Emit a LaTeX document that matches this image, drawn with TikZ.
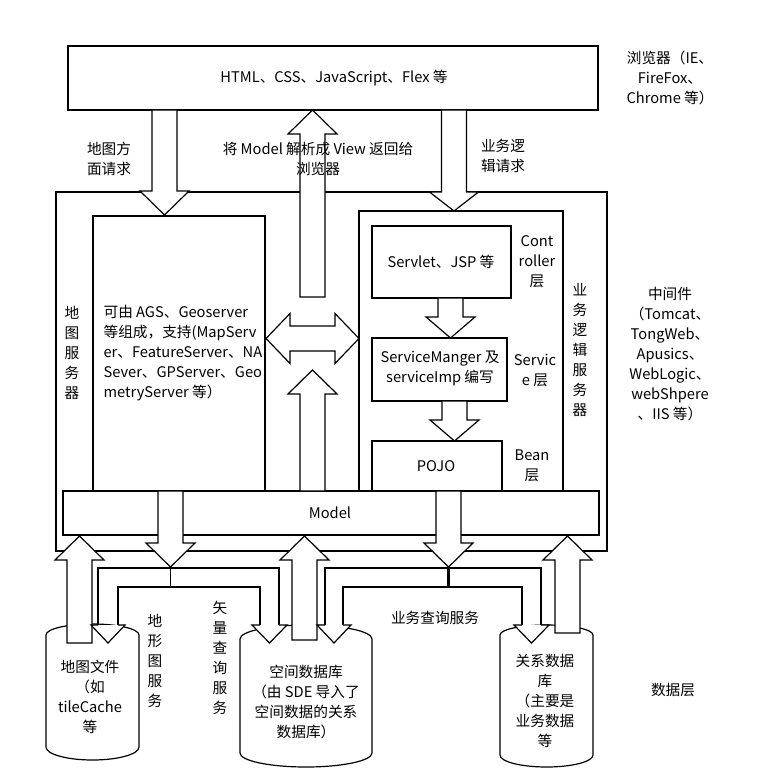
\documentclass[tikz,border=0pt]{standalone}
\usepackage{fontspec}
\setmainfont{Noto Sans CJK SC}

% vertical block arrow: [head length] x, tail y, tip y
\newcommand{\vblock}[4][24]{%
  \pgfmathsetmacro{\vbhead}{ifthenelse(#4>#3,#4-#1,#4+#1)}
  \draw[blk] ({#2-12.5},#3) -- ({#2-12.5},\vbhead) -- ({#2-24.5},\vbhead) -- (#2,#4)
    -- ({#2+24.5},\vbhead) -- ({#2+12.5},\vbhead) -- ({#2+12.5},#3) -- cycle;}

\begin{document}
\begin{tikzpicture}[
    x=0.75pt, y=-0.75pt,
    line width=0.9pt,
    lbl/.style={font=\fontsize{11pt}{15pt}\selectfont, align=center, inner sep=0pt},
    blk/.style={draw, fill=white},
    can/.style={draw, fill=white}
]
\useasboundingbox (0,0) rectangle (764,780);

% browser
\draw (68,46) rectangle (598,110);

% middleware
\draw (56,192) rectangle (607,551);
\draw (93,216) rectangle (265,491);
\draw (359,211) rectangle (563,491);
\draw (372,226) rectangle (511,298);
\draw (372,338) rectangle (507,401);
\draw (372,441) rectangle (502,491);
\draw (63,491) rectangle (599,535);

% data layer
\draw[can] (46,635) arc[start angle=180, end angle=0, x radius=34.875pt, y radius=8.25pt]
  -- (139,747) arc[start angle=0, end angle=-180, x radius=34.875pt, y radius=9.75pt] -- cycle;
\draw[can] (240,639) arc[start angle=180, end angle=0, x radius=49.5pt, y radius=10.5pt]
  -- (372,753) arc[start angle=0, end angle=-180, x radius=49.5pt, y radius=10.5pt] -- cycle;
\draw[can] (500,635) arc[start angle=180, end angle=0, x radius=34.875pt, y radius=7.5pt]
  -- (593,755) arc[start angle=0, end angle=-180, x radius=34.875pt, y radius=9pt] -- cycle;

% block arrows
\vblock{164.5}{110}{215}
\vblock{312.5}{297}{110}
\vblock[19]{454}{110}{211}
\vblock[21]{450.5}{298}{338}
\vblock[21]{454.5}{401}{441}
\vblock{312.5}{491}{370}
\vblock{79.5}{643}{536}
\vblock{170.5}{491}{567}
\vblock{304.5}{640}{536}
\vblock{448.5}{491}{567}
\vblock{567.5}{633}{536}
\draw[blk] (266,338.5) -- (290,313.5) -- (290,326) -- (335,326) -- (335,313.5) -- (359,338.5)
  -- (335,363.5) -- (335,351) -- (290,351) -- (290,363.5) -- cycle;

% query pipes
\draw (98,625) |- (279,568) -- (279,625);
\draw (118,625) |- (260,587) -- (260,625);
\draw (170.5,567) -- (170.5,587);
\draw[blk] (98,625) -- (91,625) -- (108,643) -- (125,625) -- (118,625);
\draw[blk] (260,625) -- (252,625) -- (269.5,643) -- (287,625) -- (279,625);
\draw (325,625) |- (541,568) -- (541,625);
\draw (343,625) |- (522,587) -- (522,625);
\draw[line width=1.8pt] (448.5,567) -- (448.5,587);
\draw[blk] (325,625) -- (317,625) -- (334,643) -- (351,625) -- (343,625);
\draw[blk] (522,625) -- (514,625) -- (531.5,643) -- (549,625) -- (541,625);

% labels
\node[lbl] (web) at (334,78) {HTML、CSS、JavaScript、Flex 等};
\node[lbl, align=left] (mapreq) at (109,159) {地图方\\面请求};
\node[lbl] (render) at (318,159) {将 Model 解析成 View 返回给\\浏览器};
\node[lbl, align=left] (bizreq) at (503,156) {业务逻\\辑请求};
\node[lbl] (mapsrv) at (72,353) {地\\图\\服\\务\\器};
\node[lbl, align=left, anchor=west] (mapdesc) at (103,353)
  {可由 AGS、Geoserver\\等组成，支持(MapServ\\er、FeatureServer、NA\\Sever、GPServer、Geo\\metryServer 等）};
\node[lbl] (ctrl) at (441,262) {Servlet、JSP 等};
\node[lbl] (ctrllayer) at (537,262) {Cont\\roller\\层};
\node[lbl] (svc) at (440,368) {ServiceManger 及\\serviceImp 编写};
\node[lbl] (svclayer) at (535,370) {Servic\\e 层};
\node[lbl] (pojo) at (436,466) {POJO};
\node[lbl] (beanlayer) at (532,466) {Bean\\层};
\node[lbl] (bizsrv) at (580,350) {业\\务\\逻\\辑\\服\\务\\器};
\node[lbl] (model) at (330,513) {Model};
\node[lbl] (mapfile) at (90,697) {地图文件\\（如\\tileCache\\等};
\node[lbl] (sdedb) at (306,702) {空间数据库\\（由 SDE 导入了\\空间数据的关系\\数据库）};
\node[lbl] (reldb) at (545,701) {关系数据\\库\\（主要是\\业务数据\\等};
\node[lbl] (terrain) at (155,661) {地\\形\\图\\服\\务};
\node[lbl] (vector) at (220,658) {矢\\量\\查\\询\\服\\务};
\node[lbl] (bizquery) at (435,618) {业务查询服务};
\node[lbl] (browser) at (670,78) {浏览器（IE、\\FireFox、\\Chrome 等）};
\node[lbl] (middleware) at (670,354) {中间件\\（Tomcat、\\TongWeb、\\Apusics、\\WebLogic、\\webShpere\\、IIS 等）};
\node[lbl] (datalayer) at (673,690) {数据层};
\end{tikzpicture}
\end{document}
